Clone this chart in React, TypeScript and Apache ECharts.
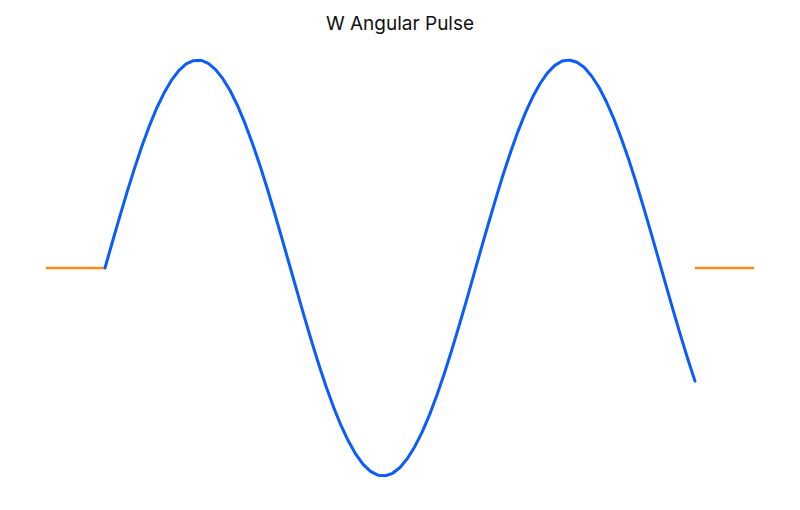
import { useEffect, useRef } from 'react'
import * as echarts from 'echarts'

// pulse samples, x from -1 to 1 in steps of 0.025
const pulseX = [
  -1, -0.975, -0.95, -0.925, -0.9, -0.875, -0.85, -0.825, -0.8, -0.775,
  -0.75, -0.725, -0.7, -0.675, -0.65, -0.625, -0.6, -0.575, -0.55, -0.525,
  -0.5, -0.475, -0.45, -0.425, -0.4, -0.375, -0.35, -0.325, -0.3, -0.275,
  -0.25, -0.225, -0.2, -0.175, -0.15, -0.125, -0.1, -0.075, -0.05, -0.025,
  0, 0.025, 0.05, 0.075, 0.1, 0.125, 0.15, 0.175, 0.2, 0.225,
  0.25, 0.275, 0.3, 0.325, 0.35, 0.375, 0.4, 0.425, 0.45, 0.475,
  0.5, 0.525, 0.55, 0.575, 0.6, 0.625, 0.65, 0.675, 0.7, 0.725,
  0.75, 0.775, 0.8, 0.825, 0.85, 0.875, 0.9, 0.925, 0.95, 0.975, 1
]
const pulseY = [
  0, 0.125, 0.247, 0.366, 0.479, 0.585, 0.682, 0.768, 0.841, 0.902,
  0.949, 0.981, 0.997, 0.999, 0.984, 0.954, 0.909, 0.851, 0.778, 0.694,
  0.598, 0.494, 0.382, 0.263, 0.141, 0.017, -0.108, -0.231, -0.351, -0.465,
  -0.572, -0.67, -0.757, -0.832, -0.895, -0.944, -0.978, -0.996, -0.999, -0.987,
  -0.959, -0.916, -0.859, -0.789, -0.706, -0.612, -0.508, -0.397, -0.279, -0.158,
  -0.033, 0.092, 0.215, 0.335, 0.451, 0.558, 0.657, 0.746, 0.823, 0.887,
  0.938, 0.974, 0.995, 1.0, 0.989, 0.964, 0.922, 0.868, 0.798, 0.717,
  0.624, 0.523, 0.412, 0.295, 0.174, 0.05, -0.075, -0.199, -0.319, -0.435, -0.544
]
const leftFlat = [[-1.2, 0], [-1, 0]]
const rightFlat = [[1, 0], [1.2, 0]]

export default function App() {
  const chartRef = useRef<HTMLDivElement>(null)

  useEffect(() => {
    const host = chartRef.current
    if (!host) return
    const chart = echarts.init(host, null, { renderer: 'svg' })

    const flatLine = (data: number[][]) => ({
      type: 'line' as const,
      data,
      showSymbol: false,
      lineStyle: { color: '#ff8c12', width: 2.5 },
      itemStyle: { color: '#ff8c12' }
    })

    chart.setOption({
      animation: false,
      backgroundColor: '#ffffff',
      title: {
        text: 'W Angular Pulse',
        left: 'center',
        top: 9,
        textStyle: {
          fontFamily: 'Inter',
          fontSize: 19,
          fontWeight: 'normal',
          color: '#111111'
        }
      },
      grid: { left: 46, top: 60, width: 708, height: 416 },
      xAxis: {
        type: 'value',
        min: -1.2,
        max: 1.2,
        show: false
      },
      yAxis: {
        type: 'value',
        min: -1,
        max: 1,
        show: false
      },
      series: [
        flatLine(leftFlat),
        flatLine(rightFlat),
        {
          type: 'line',
          data: pulseX.map((x, i) => [x, pulseY[i]]),
          showSymbol: false,
          lineStyle: { color: '#0a5cff', width: 3, join: 'round', cap: 'round' },
          itemStyle: { color: '#0a5cff' }
        }
      ]
    })

    return () => chart.dispose()
  }, [])

  return <div ref={chartRef} style={{ width: 800, height: 510, margin: -8 }} />
}
